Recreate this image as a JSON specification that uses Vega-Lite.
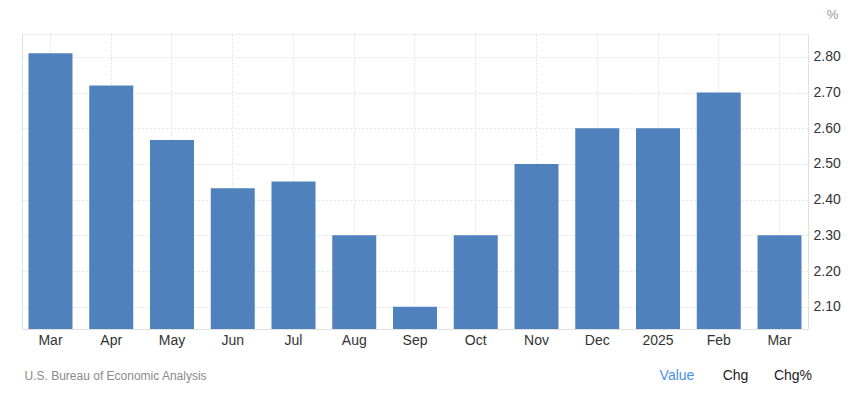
{
  "$schema": "https://vega.github.io/schema/vega-lite/v6.json",
  "autosize": "none",
  "width": 786,
  "height": 295,
  "padding": {"left": 22, "top": 34, "right": 45, "bottom": 65},
  "background": "white",
  "config": {
    "font": "Liberation Sans",
    "view": {"stroke": null}
  },
  "data": {
    "values": [
      {"date": "2024-03-15", "value": 2.81},
      {"date": "2024-04-15", "value": 2.72},
      {"date": "2024-05-15", "value": 2.567},
      {"date": "2024-06-15", "value": 2.432},
      {"date": "2024-07-15", "value": 2.451},
      {"date": "2024-08-15", "value": 2.30},
      {"date": "2024-09-15", "value": 2.10},
      {"date": "2024-10-15", "value": 2.30},
      {"date": "2024-11-15", "value": 2.50},
      {"date": "2024-12-15", "value": 2.60},
      {"date": "2025-01-15", "value": 2.60},
      {"date": "2025-02-15", "value": 2.70},
      {"date": "2025-03-15", "value": 2.30}
    ]
  },
  "encoding": {
    "x": {
      "field": "date",
      "timeUnit": "yearmonth",
      "type": "ordinal",
      "scale": {"paddingInner": 0.276, "paddingOuter": 0.107}
    },
    "y": {
      "field": "value",
      "type": "quantitative",
      "scale": {"domain": [2.0377, 2.864], "zero": false, "nice": false}
    }
  },
  "layer": [
    {
      "mark": {"type": "bar", "color": "#4f81bd", "clip": true},
      "encoding": {
        "x": {
          "field": "date",
          "timeUnit": "yearmonth",
          "type": "ordinal",
          "axis": {
            "orient": "bottom",
            "labelExpr": "month(datum.value) == 0 ? timeFormat(datum.value, '%Y') : timeFormat(datum.value, '%b')",
            "labelAngle": 0,
            "labelFontSize": 14,
            "labelColor": "#333333",
            "labelPadding": 4,
            "ticks": false,
            "domain": true,
            "domainColor": "#e0e0e0",
            "domainWidth": 1,
            "grid": true,
            "bandPosition": 0.5,
            "gridColor": "#e2e2e2",
            "gridDash": [2, 2],
            "gridWidth": 1,
            "title": "Value",
            "titleColor": "#4a90e2",
            "titleFontSize": 14,
            "titleFontWeight": "normal",
            "titleX": 654.5,
            "titleY": 46,
            "titleAlign": "center",
            "titleBaseline": "middle",
            "titleAngle": 0
          }
        },
        "y": {
          "field": "value",
          "type": "quantitative",
          "axis": {
            "orient": "right",
            "values": [2.1, 2.2, 2.3, 2.4, 2.5, 2.6, 2.7, 2.8],
            "format": ".2f",
            "labelFontSize": 14,
            "labelColor": "#333333",
            "labelPadding": 5,
            "ticks": false,
            "domain": true,
            "domainColor": "#e0e0e0",
            "grid": true,
            "gridColor": "#e2e2e2",
            "gridDash": [2, 2],
            "title": "%",
            "titleColor": "#999999",
            "titleFontSize": 13,
            "titleFontWeight": "normal",
            "titleAngle": 0,
            "titleX": 24,
            "titleY": -20,
            "titleAlign": "center",
            "titleBaseline": "middle"
          }
        }
      }
    },
    {
      "mark": {"type": "bar", "opacity": 0},
      "encoding": {
        "x": {
          "field": "date",
          "timeUnit": "yearmonth",
          "type": "ordinal",
          "axis": {
            "orient": "top",
            "labels": false,
            "ticks": false,
            "grid": false,
            "domain": true,
            "domainColor": "#e2e2e2",
            "domainDash": [2, 2],
            "title": "Chg",
            "titleColor": "#222222",
            "titleFontSize": 14,
            "titleFontWeight": "normal",
            "titleX": 713,
            "titleY": 341.5,
            "titleAlign": "center",
            "titleBaseline": "middle",
            "titleAngle": 0
          }
        },
        "y": {
          "field": "value",
          "type": "quantitative",
          "axis": {
            "orient": "left",
            "labels": false,
            "ticks": false,
            "grid": false,
            "domain": true,
            "domainColor": "#e0e0e0",
            "title": "Chg%",
            "titleColor": "#222222",
            "titleFontSize": 14,
            "titleFontWeight": "normal",
            "titleAngle": 0,
            "titleX": 770.5,
            "titleY": 341.5,
            "titleAlign": "center",
            "titleBaseline": "middle"
          }
        }
      }
    },
    {
      "mark": {"type": "bar", "opacity": 0},
      "encoding": {
        "x": {
          "field": "date",
          "timeUnit": "yearmonth",
          "type": "ordinal",
          "axis": null
        },
        "y": {
          "field": "value",
          "type": "quantitative",
          "axis": {
            "orient": "right",
            "labels": false,
            "ticks": false,
            "grid": false,
            "domain": false,
            "title": "U.S. Bureau of Economic Analysis",
            "titleColor": "#8a8a8a",
            "titleFontSize": 12,
            "titleFontWeight": "normal",
            "titleAngle": 0,
            "titleX": -784,
            "titleY": 341,
            "titleAlign": "left",
            "titleBaseline": "middle"
          }
        }
      }
    }
  ],
  "resolve": {"axis": {"x": "independent", "y": "independent"}}
}
